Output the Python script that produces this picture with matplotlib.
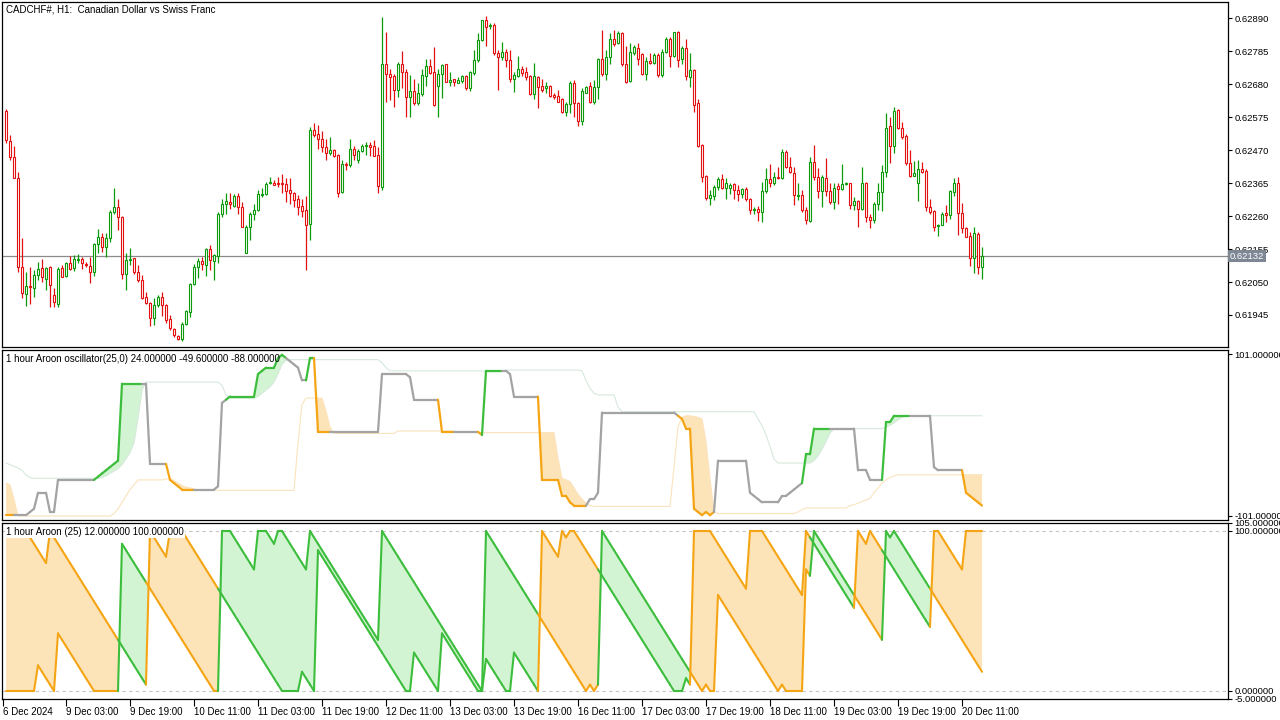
import numpy as np
import matplotlib
matplotlib.use('Agg')
import matplotlib.pyplot as plt
from matplotlib.collections import LineCollection

plt.rcParams['font.family'] = ['Liberation Sans', 'DejaVu Sans']
plt.rcParams['font.size'] = 7

# CADCHF H1 candles, prices in points (1e-5)
open_pts = [
    62596, 62498, 62449, 62380, 62099, 62012, 62037, 62030, 62072, 62096,
    62061, 62099, 62008, 61980, 62095, 62069, 62109, 62095, 62120, 62124,
    62108, 62102, 62083, 62170, 62192, 62160, 62189, 62272, 62290, 62256,
    62077, 62119, 62125, 62081, 62056, 62003, 61982, 61934, 61977, 62003,
    61977, 61932, 61900, 61878, 61867, 61916, 61956, 62043, 62099, 62117,
    62104, 62154, 62118, 62133, 62268, 62297, 62306, 62293, 62324, 62290,
    62144, 62226, 62268, 62279, 62326, 62329, 62364, 62367, 62366, 62364,
    62362, 62343, 62334, 62313, 62292, 62279, 62234, 62534, 62521, 62507,
    62479, 62460, 62472, 62454, 62337, 62426, 62423, 62473, 62440, 62467,
    62482, 62486, 62484, 62454, 62354, 62746, 62714, 62706, 62661,
    62746, 62718, 62640, 62659, 62621, 62649, 62706, 62738, 62720, 62674,
    62712, 62743, 62688, 62696, 62685, 62691, 62706, 62667, 62717, 62757,
    62821, 62884, 62865, 62868, 62780, 62767, 62783, 62757, 62696, 62706,
    62727, 62720, 62706, 62648, 62704, 62674, 62667, 62674, 62645, 62642,
    62632, 62592, 62617, 62685, 62621, 62564, 62653, 62674, 62624, 62670,
    62762, 62714, 62767, 62823, 62810, 62844, 62744, 62690, 62780, 62797,
    62776, 62714, 62755, 62749, 62773, 62709, 62783, 62824, 62770, 62845,
    62759, 62794, 62704, 62725, 62619, 62486, 62387, 62319, 62324, 62353,
    62378, 62348, 62351, 62361, 62343, 62330, 62345, 62316, 62279, 62284,
    62274, 62341, 62378, 62364, 62385, 62380, 62463, 62415, 62398, 62324,
    62326, 62281, 62245, 62433, 62383, 62341, 62382, 62341, 62306, 62356,
    62345, 62362, 62364, 62295, 62307, 62284, 62364, 62258, 62249, 62300,
    62337, 62399, 62547, 62484, 62598, 62542, 62515, 62430, 62388, 62364,
    62409, 62403, 62290, 62276, 62230, 62233, 62271, 62265, 62337, 62364,
    62271, 62221, 62196, 62128, 62203, 62099,
]
high_pts = [
    62600, 62518, 62484, 62401, 62189, 62083, 62099, 62088, 62115, 62122,
    62099, 62101, 62030, 62099, 62104, 62115, 62133, 62136, 62139, 62130,
    62115, 62130, 62173, 62218, 62205, 62205, 62279, 62348, 62313, 62260,
    62141, 62157, 62128, 62104, 62072, 62019, 61987, 62000, 62008, 62019,
    61980, 61945, 61902, 61881, 61923, 61961, 62046, 62107, 62125, 62130,
    62157, 62168, 62139, 62274, 62313, 62334, 62334, 62330, 62332, 62306,
    62231, 62274, 62300, 62343, 62348, 62369, 62385, 62375, 62383, 62394,
    62380, 62380, 62337, 62326, 62313, 62324, 62545, 62557, 62550, 62532,
    62504, 62513, 62474, 62458, 62438, 62433, 62504, 62484, 62475, 62489,
    62497, 62497, 62502, 62481, 62895, 62847, 62730, 62714, 62752,
    62786, 62730, 62709, 62696, 62683, 62730, 62759, 62759, 62799, 62728,
    62746, 62745, 62720, 62698, 62702, 62709, 62708, 62723, 62789, 62844,
    62886, 62897, 62874, 62874, 62789, 62815, 62791, 62789, 62720, 62770,
    62738, 62736, 62709, 62748, 62706, 62698, 62688, 62677, 62651, 62661,
    62635, 62624, 62690, 62695, 62624, 62669, 62674, 62688, 62693, 62765,
    62852, 62789, 62844, 62852, 62849, 62846, 62801, 62812, 62805, 62812,
    62778, 62767, 62780, 62780, 62778, 62791, 62831, 62829, 62847, 62849,
    62801, 62823, 62778, 62730, 62632, 62491, 62390, 62343, 62359, 62383,
    62394, 62380, 62366, 62366, 62359, 62348, 62353, 62319, 62290, 62292,
    62369, 62412, 62426, 62401, 62417, 62475, 62472, 62447, 62417, 62364,
    62343, 62290, 62449, 62486, 62412, 62390, 62444, 62366, 62364, 62366,
    62426, 62369, 62366, 62322, 62311, 62415, 62369, 62268, 62306, 62364,
    62423, 62587, 62576, 62606, 62600, 62560, 62521, 62470, 62436, 62438,
    62433, 62409, 62316, 62279, 62234, 62274, 62295, 62343, 62380, 62385,
    62302, 62226, 62210, 62224, 62210, 62162,
]
low_pts = [
    62494, 62438, 62380, 62083, 61998, 61973, 61980, 62001, 62056, 62051,
    62026, 61971, 61971, 61971, 62065, 62067, 62088, 62086, 62109, 62093,
    62099, 62048, 62069, 62141, 62146, 62130, 62178, 62268, 62215, 62061,
    62026, 62104, 62075, 62051, 61995, 61980, 61910, 61913, 61971, 61942,
    61920, 61897, 61874, 61865, 61863, 61913, 61939, 62040, 62064, 62088,
    62069, 62088, 62056, 62109, 62258, 62268, 62284, 62288, 62268, 62224,
    62143, 62184, 62247, 62277, 62322, 62326, 62362, 62358, 62353, 62332,
    62306, 62300, 62290, 62263, 62258, 62088, 62184, 62513, 62475, 62465,
    62438, 62454, 62449, 62322, 62334, 62407, 62417, 62438, 62428, 62465,
    62454, 62451, 62452, 62334, 62343, 62624, 62630, 62608, 62640,
    62667, 62576, 62576, 62614, 62614, 62642, 62674, 62712, 62610, 62576,
    62635, 62686, 62674, 62674, 62683, 62683, 62663, 62659, 62709, 62752,
    62818, 62801, 62855, 62773, 62661, 62757, 62736, 62688, 62656, 62704,
    62706, 62693, 62645, 62632, 62603, 62656, 62651, 62638, 62632, 62622,
    62587, 62579, 62587, 62576, 62547, 62550, 62651, 62619, 62617, 62632,
    62706, 62693, 62746, 62802, 62807, 62738, 62685, 62688, 62773, 62741,
    62709, 62693, 62746, 62746, 62704, 62702, 62780, 62736, 62767, 62736,
    62744, 62695, 62670, 62592, 62481, 62369, 62311, 62295, 62311, 62343,
    62345, 62313, 62330, 62316, 62309, 62319, 62309, 62268, 62268, 62245,
    62242, 62332, 62353, 62359, 62377, 62377, 62412, 62396, 62295, 62311,
    62274, 62234, 62242, 62375, 62319, 62290, 62324, 62298, 62284, 62298,
    62343, 62359, 62284, 62281, 62224, 62281, 62242, 62221, 62239, 62279,
    62277, 62383, 62430, 62462, 62536, 62507, 62422, 62385, 62387, 62309,
    62398, 62277, 62268, 62212, 62196, 62231, 62242, 62250, 62325, 62199,
    62205, 62192, 62101, 62080, 62075, 62061,
]
close_pts = [
    62502, 62447, 62382, 62099, 62014, 62037, 62033, 62072, 62093, 62067,
    62095, 62040, 61987, 62093, 62067, 62111, 62093, 62122, 62124, 62109,
    62104, 62081, 62170, 62192, 62160, 62191, 62274, 62290, 62256, 62077,
    62120, 62124, 62083, 62056, 62000, 61982, 61934, 61977, 62003, 61977,
    61929, 61902, 61881, 61868, 61916, 61959, 62043, 62099, 62117, 62106,
    62154, 62120, 62136, 62268, 62298, 62308, 62298, 62324, 62290, 62226,
    62226, 62268, 62281, 62329, 62330, 62362, 62368, 62359, 62361, 62361,
    62341, 62332, 62311, 62290, 62277, 62233, 62534, 62518, 62504, 62479,
    62462, 62472, 62452, 62335, 62426, 62423, 62473, 62454, 62468, 62484,
    62486, 62481, 62453, 62356, 62746, 62714, 62704, 62661, 62744,
    62718, 62640, 62659, 62621, 62653, 62709, 62738, 62717, 62614, 62712,
    62741, 62688, 62695, 62686, 62693, 62706, 62667, 62720, 62757, 62821,
    62884, 62863, 62868, 62780, 62767, 62783, 62757, 62698, 62709, 62730,
    62717, 62704, 62648, 62706, 62672, 62663, 62674, 62642, 62640, 62624,
    62592, 62617, 62685, 62621, 62564, 62658, 62670, 62624, 62670, 62762,
    62714, 62767, 62823, 62808, 62842, 62744, 62688, 62783, 62799, 62759,
    62714, 62755, 62749, 62773, 62709, 62783, 62824, 62770, 62845, 62757,
    62794, 62706, 62725, 62614, 62484, 62385, 62318, 62326, 62353, 62378,
    62348, 62366, 62359, 62343, 62330, 62345, 62313, 62279, 62284, 62274,
    62341, 62378, 62364, 62385, 62380, 62463, 62417, 62399, 62326, 62328,
    62281, 62247, 62433, 62383, 62341, 62383, 62341, 62306, 62351, 62345,
    62362, 62366, 62295, 62307, 62284, 62364, 62256, 62249, 62300, 62337,
    62401, 62542, 62483, 62594, 62541, 62513, 62428, 62387, 62396, 62409,
    62401, 62290, 62274, 62226, 62233, 62268, 62263, 62340, 62364, 62271,
    62221, 62194, 62128, 62205, 62099, 62132,
]

# Aroon(25) up / down, one value per bar
aroon_up = [
    0, 0, 0, 0, 0, 0, 0, 0, 16, 12,
    8, 4, 0, 36, 32, 28, 24, 20, 16, 12,
    8, 4, 0, 0, 0, 0, 0, 0, 0, 92,
    88, 84, 80, 76, 72, 68, 64, 60, 56, 52,
    48, 44, 40, 36, 32, 28, 24, 20, 16, 12,
    8, 4, 0, 0, 100, 100, 100, 96, 92, 88,
    84, 80, 76, 100, 100, 100, 96, 92, 100, 100,
    96, 92, 88, 84, 80, 76, 100, 96, 92, 88,
    84, 80, 76, 72, 68, 64, 60, 56, 52, 48,
    44, 40, 36, 32, 100, 96, 92, 88, 84, 80,
    76, 72, 68, 64, 60, 56, 52, 48, 44, 40,
    36, 32, 28, 24, 20, 16, 12, 8, 4, 0,
    100, 96, 92, 88, 84, 80, 76, 72, 68, 64,
    60, 56, 52, 48, 44, 40, 36, 32, 28, 24,
    20, 16, 12, 8, 4, 0, 4, 0, 4, 100,
    96, 92, 88, 84, 80, 76, 72, 68, 64, 60,
    56, 52, 48, 44, 40, 36, 32, 28, 24, 20,
    16, 12, 8, 4, 0, 4, 0, 0, 60, 56,
    52, 48, 44, 40, 36, 32, 28, 24, 20, 16,
    12, 8, 4, 0, 4, 0, 0, 0, 0, 0,
    76, 72, 100, 96, 92, 88, 84, 80, 76, 72,
    68, 64, 60, 56, 52, 48, 44, 40, 36, 32,
    100, 96, 100, 96, 92, 88, 84, 80, 76, 72,
    68, 64, 60, 56, 52, 48, 44, 40, 36, 32,
    28, 24, 20, 16, 12,
]
aroon_down = [
    100, 100, 100, 100, 100, 100, 96, 92, 88, 84,
    80, 100, 96, 92, 88, 84, 80, 76, 72, 68,
    64, 60, 56, 52, 48, 44, 40, 36, 32, 28,
    24, 20, 16, 12, 8, 4, 100, 96, 92, 88,
    84, 100, 100, 100, 100, 96, 92, 88, 84, 80,
    76, 72, 68, 64, 60, 56, 52, 48, 44, 40,
    36, 32, 28, 24, 20, 16, 12, 8, 4, 0,
    0, 0, 0, 0, 12, 8, 4, 0, 88, 84,
    80, 76, 72, 68, 64, 60, 56, 52, 48, 44,
    40, 36, 32, 28, 24, 20, 16, 12, 8, 4,
    0, 0, 24, 20, 16, 12, 8, 4, 0, 36,
    32, 28, 24, 20, 16, 12, 8, 4, 0, 0,
    20, 16, 12, 8, 4, 0, 0, 24, 20, 16,
    12, 8, 4, 0, 100, 96, 92, 88, 84, 100,
    96, 100, 100, 96, 92, 88, 84, 80, 76, 72,
    68, 64, 60, 56, 52, 48, 44, 40, 36, 32,
    28, 24, 20, 16, 12, 8, 4, 0, 0, 0,
    8, 4, 100, 100, 100, 100, 100, 96, 92, 88,
    84, 80, 76, 72, 68, 64, 100, 100, 100, 100,
    96, 92, 88, 84, 80, 76, 72, 68, 64, 60,
    100, 96, 92, 88, 84, 80, 76, 72, 68, 64,
    60, 56, 52, 100, 96, 92, 100, 96, 92, 88,
    84, 80, 76, 72, 68, 64, 60, 56, 52, 48,
    44, 40, 100, 100, 96, 92, 88, 84, 80, 76,
    100, 100, 100, 100, 100,
]

# envelope lines of the Aroon oscillator panel
osc_upper = [
    -35, -37, -39, -41, -44, -50, -53, -54, -54, -54,
    -54, -54, -54, -54, -54, -54, -54, -54, -54, -54,
    -54, -54, -54, -54, -53, -51, -48, -45, -42, -37,
    -30, -22, -10, 20, 56, 66, 66, 66, 66, 66,
    66, 66, 66, 66, 66, 66, 66, 66, 66, 66,
    66, 66, 66, 66, 62, 50, 46, 46, 46, 46,
    46, 46, 46, 48, 52, 56, 60, 66, 76, 88,
    93, 94, 94, 94, 94, 94, 94, 94, 94, 94,
    94, 94, 94, 94, 94, 94, 94, 94, 94, 94,
    94, 94, 94, 94, 90, 84, 80, 80, 80, 80,
    80, 80, 80, 80, 80, 80, 80, 80, 80, 80,
    80, 80, 80, 80, 80, 80, 80, 80, 80, 80,
    79, 79, 79, 79, 79, 81, 81, 81, 81, 81,
    81, 81, 81, 81, 81, 81, 81, 81, 81, 81,
    81, 81, 81, 81, 80, 68, 58, 52, 50, 50,
    50, 50, 50, 35, 29, 29, 29, 29, 29, 29,
    29, 29, 29, 29, 29, 29, 29, 29, 29, 29,
    29, 29, 29, 29, 29, 29, 29, 29, 29, 29,
    29, 29, 29, 29, 29, 29, 29, 29, 20, 12,
    0, -14, -30, -35, -35, -35, -35, -35, -35, -35,
    -35, -35, -32, -26, -18, -8, 2, 8, 8, 8,
    8, 8, 8, 8, 8, 8, 8, 8, 8, 8,
    10, 12, 15, 19, 22, 23, 23, 24, 24, 24,
    24, 24, 24, 24, 24, 24, 24, 24, 24, 24,
    24, 24, 24, 24, 24,
]
osc_lower = [
    -60, -62, -80, -101, -101, -101, -101, -101, -101, -101,
    -101, -101, -101, -101, -101, -101, -101, -101, -101, -101,
    -101, -101, -101, -101, -101, -101, -101, -98, -92, -84,
    -76, -68, -62, -56, -56, -56, -56, -56, -56, -56,
    -55, -54, -57, -60, -63, -65, -66, -67, -69, -69,
    -69, -69, -69, -69, -69, -69, -69, -69, -69, -69,
    -69, -69, -69, -69, -69, -69, -69, -69, -69, -69,
    -69, -69, -69, -10, 38, 46, 46, 46, 46, 46,
    30, 10, 2, 2, 2, 2, 2, 2, 2, 2,
    2, 2, 2, 2, 2, 2, 2, 2, 5, 5,
    5, 5, 5, 5, 5, 5, 5, 5, 5, 5,
    5, 5, 5, 3, 3, 3, 3, 3, 3, 3,
    3, 3, 3, 3, 3, 3, 3, 3, 3, 3,
    3, 3, 3, 3, 3, 3, 3, 3, -29, -54,
    -56, -58, -66, -74, -80, -85, -88, -89, -89, -89,
    -89, -89, -89, -89, -89, -89, -89, -89, -89, -89,
    -89, -89, -89, -89, -89, -89, -89, -40, 10, 22,
    24, 24, 23, 22, 20, -8, -54, -95, -98, -98,
    -98, -98, -98, -98, -98, -98, -98, -98, -98, -98,
    -98, -98, -98, -98, -98, -98, -98, -98, -96, -93,
    -91, -91, -91, -91, -91, -91, -91, -91, -91, -91,
    -91, -88, -87, -85, -83, -81, -79, -72, -66, -60,
    -56, -53, -51, -49.6, -49.6, -49.6, -49.6, -49.6, -49.6, -49.6,
    -49.6, -49.6, -49.6, -49.6, -49.6, -49.6, -49.6, -49.6, -49.6, -49.6,
    -49.6, -49.6, -49.6, -49.6, -49.6,
]

price_ticks = [0.62890, 0.62785, 0.62680, 0.62575, 0.62470,
               0.62365, 0.62260, 0.62155, 0.62050, 0.61945]
last_price = 0.62132
time_tick_bars = [-0.75, 15, 31, 47, 63, 79, 95, 111, 127, 143, 159, 175, 191, 207, 223, 239]
time_tick_labels = ['6 Dec 2024', '9 Dec 03:00', '9 Dec 19:00', '10 Dec 11:00',
                    '11 Dec 03:00', '11 Dec 19:00', '12 Dec 11:00', '13 Dec 03:00',
                    '13 Dec 19:00', '16 Dec 11:00', '17 Dec 03:00', '17 Dec 19:00',
                    '18 Dec 11:00', '19 Dec 03:00', '19 Dec 19:00', '20 Dec 11:00']

o = np.array(open_pts) / 1e5
h = np.array(high_pts) / 1e5
l = np.array(low_pts) / 1e5
c = np.array(close_pts) / 1e5
up = np.array(aroon_up, dtype=float)
dn = np.array(aroon_down, dtype=float)
upper = np.array(osc_upper, dtype=float)
lower = np.array(osc_lower, dtype=float)
osc = up - dn
x = np.arange(len(o))

GREEN = '#3cbe3c'
ORANGE = '#f5a514'
GRAY = '#a3a3a3'
GREEN_FILL = '#d3f4d3'
ORANGE_FILL = '#fde3b8'


def colored_line(ax, xs, ys, states, palette, lw):
    pts = np.column_stack([xs, ys])
    segs = np.stack([pts[:-1], pts[1:]], axis=1)
    lc = LineCollection(segs, colors=[palette[s] for s in states[1:]],
                        linewidths=lw, capstyle='round', joinstyle='round', zorder=4)
    ax.add_collection(lc)


def style_axes(ax):
    for sp in ax.spines.values():
        sp.set_linewidth(0.9)
        sp.set_color('black')
    ax.yaxis.tick_right()
    ax.tick_params(axis='y', length=3, width=0.8, pad=1.5, labelsize=6.8, direction='out')
    ax.set_xlim(-1, 305.5)


fig = plt.figure(figsize=(12.8, 7.2), dpi=100)
fig.patch.set_facecolor('white')
L, Wd = 2 / 1280, 1226 / 1280
ax1 = fig.add_axes([L, 373 / 720, Wd, 345 / 720])
ax2 = fig.add_axes([L, 200 / 720, Wd, 170 / 720])
ax3 = fig.add_axes([L, 21 / 720, Wd, 176 / 720])

# ---- price panel ----
style_axes(ax1)
bull = c >= o
col = np.where(bull, '#0a9a0a', '#e31010')
ax1.vlines(x, l, h, colors=col, linewidth=0.9, zorder=2)
ax1.bar(x, np.maximum(np.abs(c - o), 0.000004), bottom=np.minimum(o, c), width=0.6,
        facecolor='white', edgecolor=col, linewidth=0.8, zorder=3)
ax1.axhline(last_price, color='#8a8a8a', linewidth=0.9, zorder=1)
ax1.set_ylim(0.61843, 0.62942)
ax1.set_yticks(price_ticks)
ax1.set_yticklabels(['%.5f' % p for p in price_ticks])
ax1.tick_params(axis='x', bottom=False, labelbottom=False)
ax1.text(0.0035, 0.993, 'CADCHF#, H1:  Canadian Dollar vs Swiss Franc',
         transform=ax1.transAxes, va='top', ha='left', fontsize=7)
ax1.text(1.0015, last_price, '%.5f' % last_price, transform=ax1.get_yaxis_transform(),
         va='center', ha='left', fontsize=6.8, color='white',
         bbox=dict(boxstyle='square,pad=0.15', facecolor='#7d8894', edgecolor='none'))

# ---- Aroon oscillator panel ----
style_axes(ax2)
osc_state = np.where(osc > upper, 1, np.where(osc < lower, 2, 0))
ax2.fill_between(x, osc, upper, where=osc > upper, interpolate=True,
                 color=GREEN_FILL, linewidth=0, zorder=1)
ax2.fill_between(x, osc, lower, where=osc < lower, interpolate=True,
                 color=ORANGE_FILL, linewidth=0, zorder=1)
ax2.plot(x, upper, color='#d6e9dc', linewidth=0.8, zorder=2)
ax2.plot(x, lower, color='#fbe3bd', linewidth=0.8, zorder=2)
colored_line(ax2, x, osc, osc_state, {0: GRAY, 1: GREEN, 2: ORANGE}, 1.6)
ax2.set_ylim(-106, 106)
ax2.set_yticks([101, -101])
ax2.set_yticklabels(['101.000000', '-101.000000'])
ax2.tick_params(axis='x', bottom=False, labelbottom=False)
ax2.text(0.0035, 0.975, '1 hour Aroon oscillator(25,0) %.6f %.6f %.6f'
         % (upper[-1], lower[-1], osc[-1]),
         transform=ax2.transAxes, va='top', ha='left', fontsize=7, zorder=6)

# ---- Aroon panel ----
style_axes(ax3)
ar_state = np.zeros(len(x), dtype=int)
prev = 2
for i in range(len(x)):
    if up[i] > dn[i]:
        prev = 1
    elif dn[i] > up[i]:
        prev = 2
    ar_state[i] = prev
ax3.axhline(100, color='#c4c4c4', linewidth=0.8, dashes=(3, 3), zorder=0)
ax3.axhline(0, color='#c4c4c4', linewidth=0.8, dashes=(3, 3), zorder=0)
ax3.fill_between(x, up, dn, where=ar_state == 1, interpolate=True,
                 color=GREEN_FILL, linewidth=0, zorder=1)
ax3.fill_between(x, up, dn, where=ar_state == 2, interpolate=True,
                 color=ORANGE_FILL, linewidth=0, zorder=1)
pal = {1: GREEN, 2: ORANGE}
colored_line(ax3, x, up, ar_state, pal, 1.5)
colored_line(ax3, x, dn, ar_state, pal, 1.5)
ax3.set_ylim(-5, 105)
ax3.set_yticks([105, 100, 0, -5])
ax3.set_yticklabels(['105.000000', '100.000000', '0.000000', '-5.000000'])
ax3.text(0.0035, 0.975, '1 hour Aroon (25) %.6f %.6f' % (up[-1], dn[-1]),
         transform=ax3.transAxes, va='top', ha='left', fontsize=7, zorder=6,
         bbox=dict(boxstyle='square,pad=0.1', facecolor='white', edgecolor='none'))
ax3.set_xticks(time_tick_bars)
ax3.set_xticklabels(time_tick_labels)
ax3.tick_params(axis='x', length=5, width=0.8, pad=1, labelsize=7, direction='out')
for lab in ax3.get_xticklabels():
    lab.set_ha('left')

fig.savefig('out.png', dpi=100, facecolor='white')
